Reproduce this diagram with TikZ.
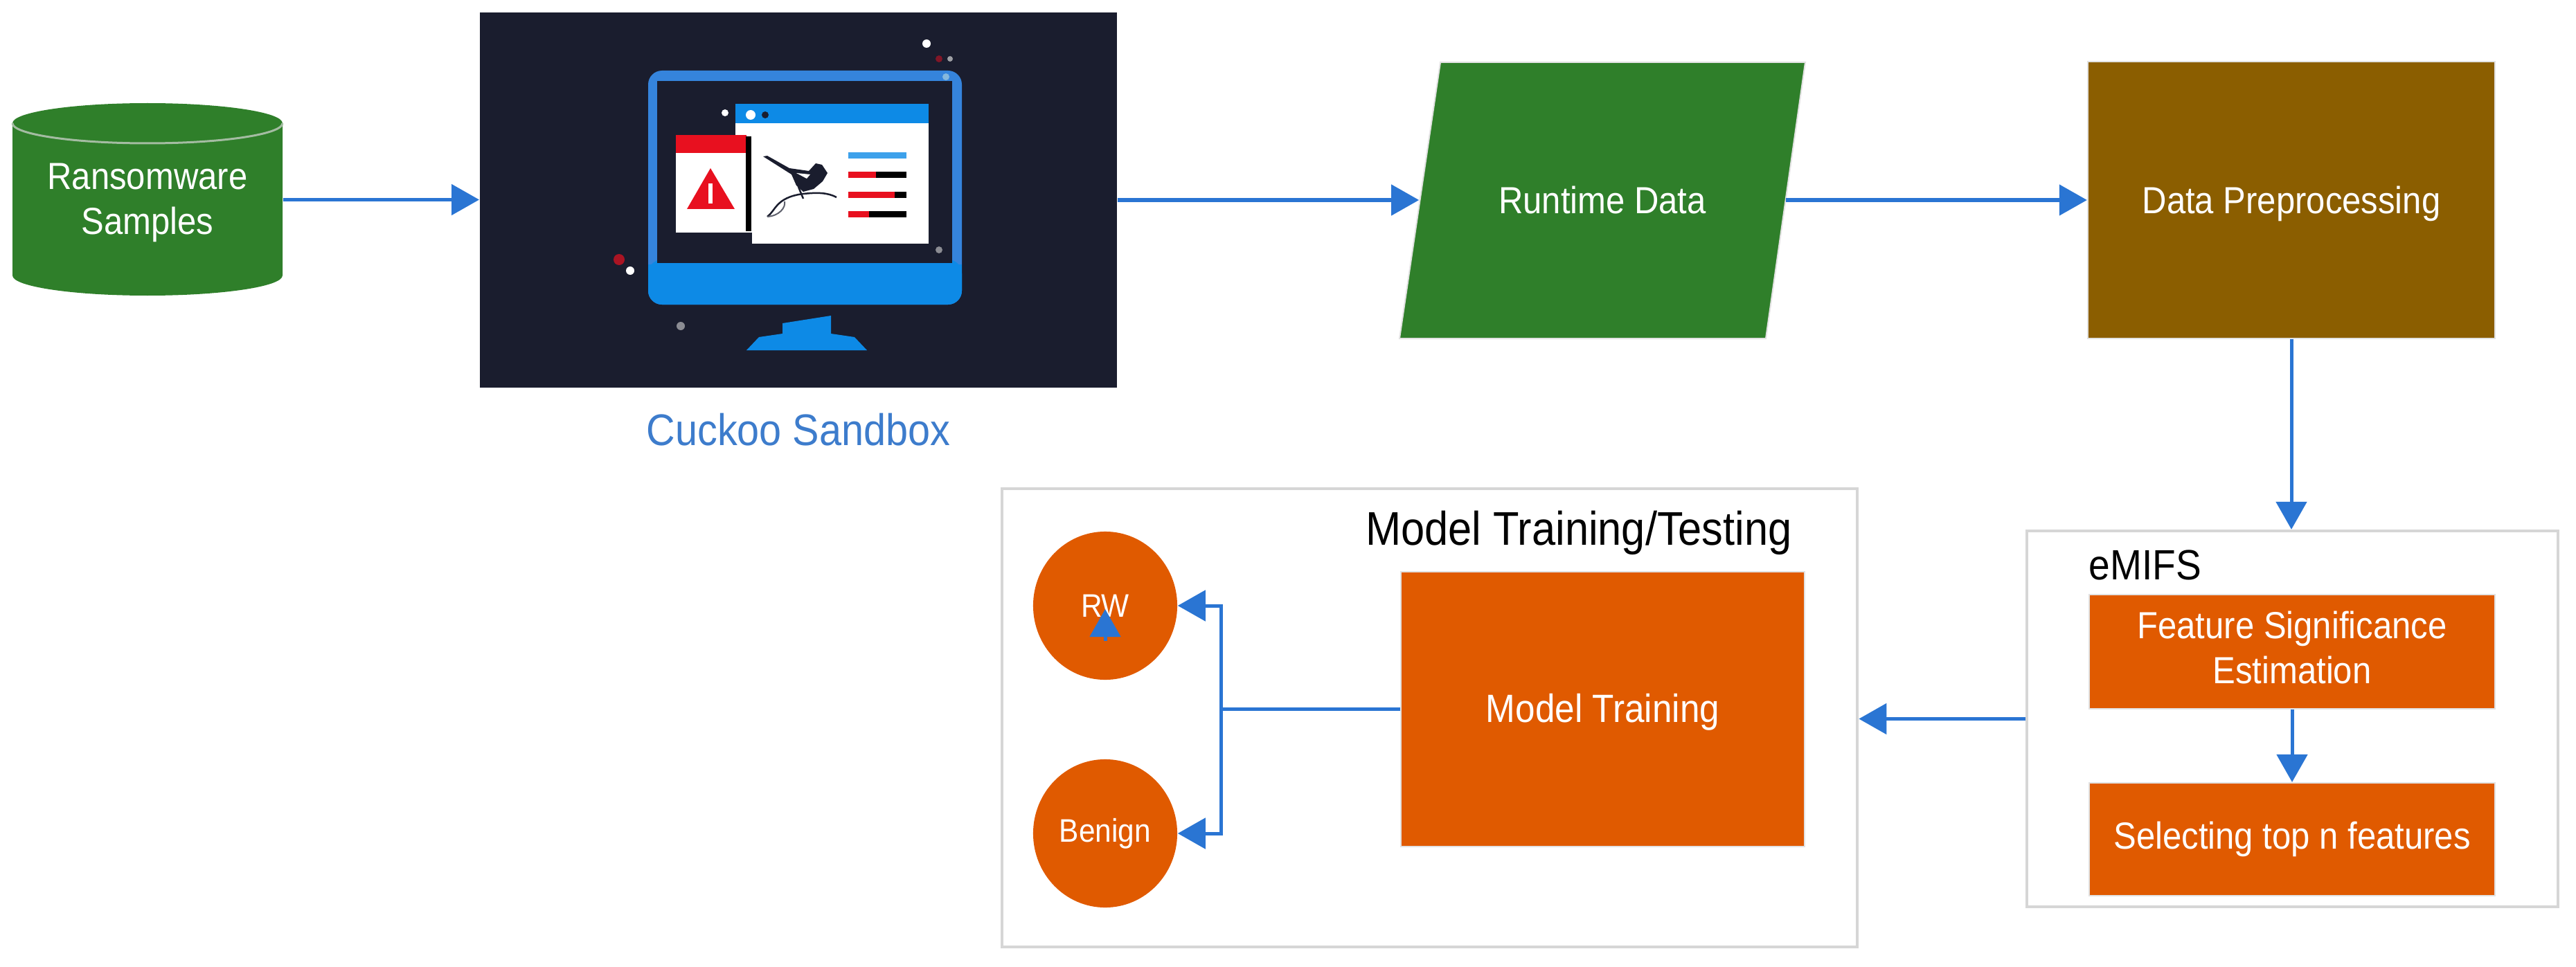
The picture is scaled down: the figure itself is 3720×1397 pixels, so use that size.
\documentclass[tikz,border=0pt]{standalone}
\usepackage{fontspec}
\setmainfont[FakeStretch=0.9]{Liberation Sans}
\usetikzlibrary{arrows.meta,shapes.geometric,calc}
\definecolor{cgreen}{HTML}{2F7F2A}
\definecolor{corange}{HTML}{E05A00}
\definecolor{cbrown}{HTML}{8B5E00}
\definecolor{cblue}{HTML}{2A75D3}
\definecolor{cdark}{HTML}{1A1D2E}
\definecolor{cmon}{HTML}{0D8AE6}
\definecolor{cframe}{HTML}{3584DC}
\definecolor{cred}{HTML}{E8101F}
\definecolor{cgrey}{HTML}{D6D6D6}
\definecolor{clabel}{HTML}{3D7CCC}
\tikzset{
  x=0.01cm,y=-0.01cm,
  flowbox/.style={rectangle,inner sep=0pt,draw=cgrey!70!white,line width=0.02cm,text=white,align=center,font=\fontsize{15.5}{18.5}\selectfont},
  plainlabel/.style={rectangle,inner sep=0pt,text=white,align=center,font=\fontsize{15.5}{18.5}\selectfont},
  orangebox/.style={flowbox,fill=corange},
  roundnode/.style={ellipse,inner sep=0pt,fill=corange,text=white,font=\fontsize{13.4}{15}\selectfont,minimum width=2.08cm,minimum height=2.14cm},
  groupbox/.style={rectangle,inner sep=0pt,draw=cgrey,line width=0.04cm},
  title/.style={inner sep=0pt,text=black},
  conn/.style={draw=cblue,line width=0.05cm},
  flow/.style={conn,-{Triangle[length=0.4cm,width=0.44cm]}},
  lowtext/.style={text height=0.5cm,text depth=0.12cm},
}
\begin{document}
\begin{tikzpicture}
\useasboundingbox (0,0) rectangle (3720,1397);
% group boxes
\node[groupbox,minimum width=12.35cm,minimum height=6.62cm] (mbox) at (2064.5,1037) {};
\node[groupbox,minimum width=7.67cm,minimum height=5.43cm] (ebox) at (3310.5,1038.5) {};
\node[title,font=\fontsize{19.4}{22}\selectfont] (mtitle) at (2280,770) {Model Training/Testing};
\node[title,font=\fontsize{17.4}{20}\selectfont] (etitle) at (3098,816) {eMIFS};
% cylinder
\fill[cgreen] (18,178) -- (18,398) arc[start angle=180,end angle=0,x radius=195,y radius=29] -- (408,178) arc[start angle=0,end angle=-180,x radius=195,y radius=29] -- cycle;
\draw[cgrey!70!cgreen,line width=0.03cm] (18,178) arc[start angle=180,end angle=0,x radius=195,y radius=29];
\node[plainlabel,minimum width=3.90cm,minimum height=2.77cm] (samples) at (213,288.5) {};
\node[plainlabel] (samplestext) at (213,293) {Ransomware\\Samples};
% sandbox
\node[rectangle,inner sep=0pt,fill=cdark,minimum width=9.20cm,minimum height=5.41cm] (sandbox) at (1153,289) {};
\node[inner sep=0pt,text=clabel,font=\fontsize{18.2}{20}\selectfont] (sandboxlabel) at (1153,621) {Cuckoo Sandbox};
% monitor
\fill[cframe,rounded corners=0.2cm] (936,102) rectangle (1389,440);
\fill[cmon,rounded corners=0.2cm] (936,375) rectangle (1389,440);
\fill[cmon] (936,382) rectangle (1389,400);
\fill[cdark] (949,117) rectangle (1375,380);
\fill[cmon] (1130,467) -- (1200,456) -- (1200,482) -- (1234,487) -- (1252,506) -- (1078,506) -- (1096,487) -- (1130,482) -- cycle;
% window
\fill[white] (1062,150) rectangle (1341,352);
\fill[cmon] (1062,150) rectangle (1341,178);
\fill[white] (1084,166) circle[radius=7];
\fill[cdark] (1105,166) circle[radius=5];
% alert
\fill[cdark] (1062,336) rectangle (1086,352);
\fill[white] (976,195) rectangle (1078,336);
\fill[cred] (976,195) rectangle (1078,221);
\fill[black] (1077,197) rectangle (1085,334);
\fill[cred] (1026,243) -- (992,302) -- (1061,302) -- cycle;
\fill[white] (1023,265) rectangle (1029,294);
% lines
\fill[cmon!80!white] (1225,220) rectangle (1309,229);
\fill[black] (1225,248) rectangle (1309,257);
\fill[cred] (1225,248) rectangle (1265,257);
\fill[black] (1225,277) rectangle (1309,286);
\fill[cred] (1225,277) rectangle (1292,286);
\fill[black] (1225,305) rectangle (1309,314);
\fill[cred] (1225,305) rectangle (1255,314);
% bird
\fill[cdark] (1102,226) -- (1108,225) -- (1140,243) -- (1168,247) -- (1178,236) -- (1187,238) -- (1195,250) -- (1188,262) -- (1175,273) -- (1160,277) -- (1150,268) -- (1143,252) -- cycle;
\fill[white] (1150,250) -- (1170,252) -- (1165,258) -- cycle;
\draw[cdark,line width=0.025cm] (1153,270) -- (1160,287);
\draw[cdark,line width=0.025cm] (1108,313) .. controls (1120,305) and (1120,285) .. (1160,280) .. controls (1180,278) and (1195,278) .. (1208,285);
\draw[cdark!70!white,line width=0.02cm] (1108,313) .. controls (1125,312) and (1135,300) .. (1133,291);
% sparks
\fill[white] (1338,63) circle[radius=6];
\fill[cgrey!70!cdark] (1372,85) circle[radius=4];
\fill[cred!50!cdark] (1356,85) circle[radius=5];
\fill[white] (1047,163) circle[radius=5];
\fill[cred!70!cdark] (894,375) circle[radius=8];
\fill[white] (910,391) circle[radius=6];
\fill[cgrey!60!cdark] (983,471) circle[radius=6];
\fill[cgrey!60!cdark] (1356,361) circle[radius=5];
\fill[cgrey!60!cmon] (1366,111) circle[radius=5];
% flow nodes
\fill[cgreen,draw=cgrey!70!white,line width=0.02cm] (2080,90) -- (2607,90) -- (2550,489) -- (2021,489) -- cycle;
\node[plainlabel,minimum width=5.28cm,minimum height=3.99cm] (runtime) at (2314,289) {Runtime Data};
\node[flowbox,lowtext,fill=cbrown,minimum width=5.88cm,minimum height=3.99cm] (prep) at (3309,289) {Data Preprocessing};
\node[orangebox,minimum width=5.85cm,minimum height=1.65cm] (fse) at (3310,941.5) {Feature Significance\\Estimation\rule[-0.12cm]{0pt}{0.1cm}};
\node[orangebox,minimum width=5.85cm,minimum height=1.63cm] (top) at (3310,1212.5) {Selecting top n features};
\node[orangebox,lowtext,minimum width=5.83cm,minimum height=3.97cm,font=\fontsize{16.2}{18.5}\selectfont] (train) at (2314.5,1024.5) {Model Training};
\node[roundnode] (rw) at (1596,875) {RW};
\node[roundnode] (benign) at (1596,1204) {Benign};
% connectors
\coordinate (fork) at (1763,1024.5);
\coordinate (rwtail) at ($(rw.center)+(0,51)$);
\coordinate (rwtip) at ($(rw.center)+(0,5)$);
\draw[flow] (samples.east) -- (samples.east -| sandbox.west);
\draw[flow] (sandbox.east) -- (runtime.west);
\draw[flow] (runtime.east) -- (prep.west);
\draw[flow] (prep.south) -- (prep.south |- ebox.north);
\draw[flow] (fse.south) -- (top.north);
\draw[flow] (ebox.west) -- (ebox.west -| mbox.east);
\draw[conn] (train.west) -- (fork);
\draw[flow] (fork) |- (rw.east);
\draw[flow] (fork) |- (benign.east);
\draw[flow] (rwtail) -- (rwtip);
\end{tikzpicture}
\end{document}
